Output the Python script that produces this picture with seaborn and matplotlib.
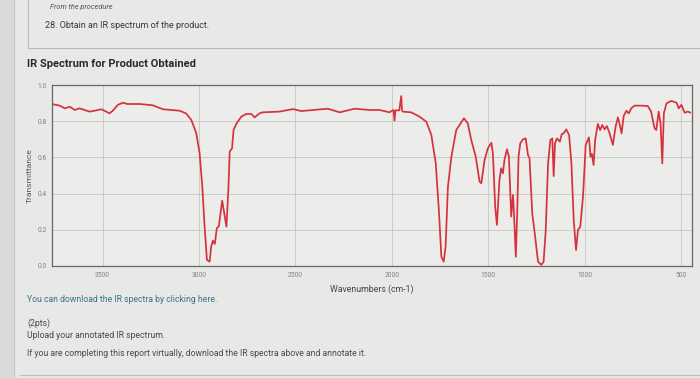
import matplotlib
matplotlib.use("Agg")
import matplotlib.pyplot as plt
import seaborn as sns
import pandas as pd
from matplotlib.patches import Rectangle

wavenumbers = [3763, 3722, 3696, 3670, 3644, 3619, 3567, 3541, 3507, 3481, 3464, 3447,
               3421, 3395, 3370, 3308, 3240, 3187, 3101, 3067, 3040, 3014, 2997, 2983,
               2971, 2959, 2945, 2937, 2928, 2918, 2908, 2897, 2880, 2858, 2848, 2841,
               2829, 2821, 2807, 2781, 2755, 2729, 2712, 2687, 2670, 2583, 2513, 2470,
               2410, 2333, 2271, 2194, 2116, 2064, 2013, 1992, 1987, 1982, 1962, 1952,
               1948, 1944, 1900, 1857, 1822, 1796, 1773, 1756, 1744, 1732, 1722, 1710,
               1692, 1667, 1650, 1627, 1607, 1589, 1566, 1546, 1537, 1520, 1503, 1485,
               1477, 1465, 1456, 1443, 1434, 1425, 1417, 1404, 1394, 1382, 1373, 1368,
               1358, 1351, 1344, 1335, 1321, 1307, 1295, 1287, 1273, 1260, 1243, 1226,
               1214, 1203, 1191, 1179, 1169, 1162, 1155, 1145, 1130, 1120, 1110, 1097,
               1082, 1070, 1058, 1046, 1036, 1024, 1010, 996, 979, 971, 964, 955, 947,
               933, 921, 910, 898, 886, 872, 855, 841, 829, 821, 810, 799, 785, 773,
               760, 743, 709, 674, 657, 639, 630, 618, 608, 599, 591, 577, 552, 525,
               514, 500, 483, 466, 454]
transmittance = [0.895, 0.886, 0.871, 0.880, 0.862, 0.871, 0.853, 0.858, 0.866, 0.853, 0.843, 0.858,
                 0.890, 0.902, 0.895, 0.895, 0.888, 0.866, 0.858, 0.843, 0.807, 0.733, 0.623, 0.438,
                 0.217, 0.033, 0.024, 0.107, 0.140, 0.122, 0.208, 0.221, 0.361, 0.217, 0.420, 0.632,
                 0.650, 0.751, 0.785, 0.825, 0.840, 0.840, 0.821, 0.843, 0.849, 0.853, 0.867, 0.856,
                 0.862, 0.869, 0.849, 0.869, 0.862, 0.862, 0.849, 0.862, 0.803, 0.860, 0.860, 0.939,
                 0.860, 0.853, 0.849, 0.825, 0.797, 0.724, 0.567, 0.291, 0.051, 0.024, 0.107, 0.438,
                 0.604, 0.751, 0.779, 0.816, 0.788, 0.696, 0.604, 0.466, 0.457, 0.586, 0.650, 0.681,
                 0.623, 0.328, 0.227, 0.475, 0.540, 0.512, 0.586, 0.645, 0.604, 0.273, 0.392, 0.300,
                 0.051, 0.291, 0.604, 0.678, 0.700, 0.705, 0.613, 0.595, 0.291, 0.180, 0.024, 0.006,
                 0.024, 0.199, 0.567, 0.696, 0.705, 0.497, 0.678, 0.705, 0.687, 0.729, 0.733, 0.755,
                 0.724, 0.567, 0.254, 0.088, 0.199, 0.217, 0.383, 0.669, 0.711, 0.604, 0.620, 0.558, 0.696,
                 0.785, 0.751, 0.779, 0.755, 0.773, 0.733, 0.669, 0.770, 0.821, 0.788, 0.733, 0.829, 0.858, 0.843,
                 0.871, 0.886, 0.886, 0.884, 0.853, 0.761, 0.751, 0.853, 0.788, 0.567, 0.843, 0.899, 0.912, 0.902,
                 0.871, 0.890, 0.847, 0.853, 0.847]
x_ticks = [3500, 3000, 2500, 2000, 1500, 1000, 500]
y_ticks = [0.0, 0.2, 0.4, 0.6, 0.8, 1.0]

df = pd.DataFrame({"wn": wavenumbers, "T": transmittance})

sns.set_theme(style="whitegrid")
plt.rcParams["font.family"] = ["Roboto", "DejaVu Sans"]

W, H = 700, 378
fig = plt.figure(figsize=(7, 3.78), dpi=100, facecolor="#e8e8e6")
ax = fig.add_axes([52 / W, 1 - 266 / H, 640 / W, 181 / H])
ax.set_facecolor("#ececea")

sns.lineplot(data=df, x="wn", y="T", ax=ax, color="#d7323c", linewidth=1.25,
             estimator=None)

ax.set_xlim(3762, 445)
ax.set_ylim(0, 1.0)
ax.set_xticks(x_ticks)
ax.set_xticklabels([str(t) for t in x_ticks])
ax.set_yticks(y_ticks)
ax.set_yticklabels([f"{t:.1f}" for t in y_ticks])
ax.tick_params(axis="both", labelsize=4.8, colors="#808080", length=2, width=0.5, pad=2,
               direction="out")
ax.grid(True, color="#cbcbcb", linewidth=0.7)
for s in ax.spines.values():
    s.set_color("#666666")
    s.set_linewidth(0.9)
ax.set_xlabel("Wavenumbers (cm-1)", fontsize=6.3, color="#444444", labelpad=4)
ax.set_ylabel("Transmittance", fontsize=6, color="#555555", labelpad=3)

# page elements
fig.patches.append(Rectangle((0, 0), 14 / W, 1, transform=fig.transFigure,
                             facecolor="#dadad8", edgecolor="none", zorder=-1))
fig.patches.append(Rectangle((28 / W, 1 - 48 / H), 680 / W, 50 / H, transform=fig.transFigure,
                             fill=False, edgecolor="#b8b8b8", linewidth=0.8))
fig.lines.append(plt.Line2D([14 / W, 14 / W], [0, 1], transform=fig.transFigure,
                            color="#c5c5c5", linewidth=0.8))
fig.lines.append(plt.Line2D([20 / W, 1], [1 - 375 / H, 1 - 375 / H], transform=fig.transFigure,
                            color="#bdbdbd", linewidth=0.8))

def t(x, y, s, **kw):
    fig.text(x / W, 1 - y / H, s, va="center", ha="left", **kw)

t(50, 7, "From the procedure", fontsize=5.3, style="italic", color="#555555")
t(45, 25, "28. Obtain an IR spectrum of the product.", fontsize=6.5, color="#3a3a3a")
t(27, 64, "IR Spectrum for Product Obtained", fontsize=8, fontweight="bold", color="#2a2a2a")
t(27, 300, "You can download the IR spectra by clicking here.", fontsize=6.2, color="#3a7389")
t(27, 323, "(2pts)", fontsize=6.2, color="#4a4a4a")
t(27, 335, "Upload your annotated IR spectrum.", fontsize=6.2, color="#4a4a4a")
t(27, 354, "If you are completing this report virtually, download the IR spectra above and annotate it.",
  fontsize=6.2, color="#4a4a4a")

fig.savefig("out.png", dpi=100, facecolor=fig.get_facecolor())
